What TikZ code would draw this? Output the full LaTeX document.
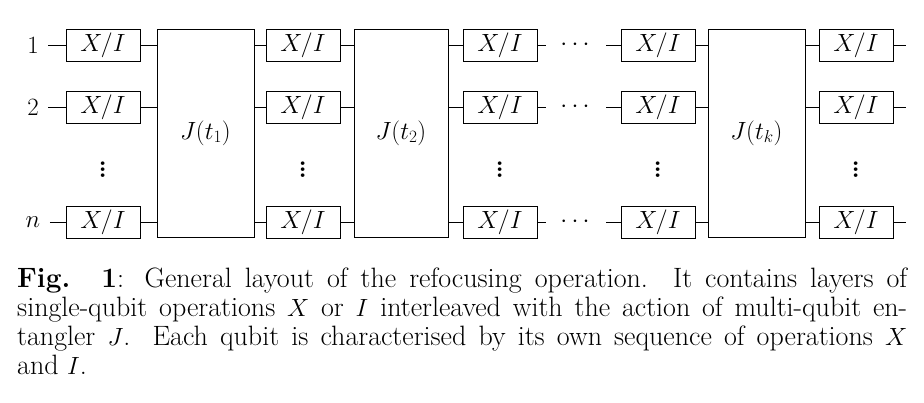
\documentclass[tikz,border=0pt]{standalone}
\begin{document}
\begin{tikzpicture}[x=1pt,y=-1pt,
  g/.style={draw,line width=0.9pt,minimum width=74pt,minimum height=32pt,inner sep=0pt,font=\fontsize{24}{28}\selectfont},
  J/.style={draw,line width=0.9pt,inner sep=0pt,font=\fontsize{24}{28}\selectfont},
  w/.style={line width=0.9pt},
  lab/.style={font=\fontsize{24}{28}\selectfont},
  dt/.style={inner sep=0pt,font=\fontsize{30}{34}\selectfont}]
\useasboundingbox (0,0) rectangle (924,402);
% J boxes
\node[J,minimum width=97pt,minimum height=208pt] (J1) at (205.5,133) {$J(t_1)$};
\node[J,minimum width=94pt,minimum height=208pt] (J2) at (401,133) {$J(t_2)$};
\node[J,minimum width=97pt,minimum height=208pt] (J3) at (756.5,133) {$J(t_k)$};
% row labels
\node[lab] (l1) at (33,45) {$1$};
\node[lab] (l2) at (33,107) {$2$};
\node[lab] (ln) at (33,222) {$n$};
\foreach \c/\x in {a/103,b/303,c/500,d/658,e/856}{
  \node[g] (\c1) at (\x,45) {$X/I$};
  \node[g] (\c2) at (\x,107) {$X/I$};
  \node[g] (\c n) at (\x,222) {$X/I$};
  \node[dt,scale=1.5] (\c v) at (\x,165) {$\vdots$};
}
\foreach \r/\y in {1/45,2/107,n/222}{
  \draw[w] (l\r.east)++(6,0) -- (a\r.west);
  \draw[w] (a\r.east) -- (a\r.east -| J1.west);
  \draw[w] (J1.east |- b\r.west) -- (b\r.west);
  \draw[w] (b\r.east) -- (b\r.east -| J2.west);
  \draw[w] (J2.east |- c\r.west) -- (c\r.west);
  \coordinate (p\r) at (546,\y);
  \coordinate (q\r) at (606,\y);
  \draw[w] (c\r.east) -- (p\r);
  \node[dt] (dots\r) at (575,\y) {$\cdots$};
  \draw[w] (q\r) -- (d\r.west);
  \draw[w] (d\r.east) -- (d\r.east -| J3.west);
  \draw[w] (J3.east |- e\r.west) -- (e\r.west);
  \coordinate (z\r) at (906,\y);
  \draw[w] (e\r.east) -- (z\r);
}
\node[anchor=north west,inner sep=0pt,text width=890pt,align=justify,font=\fontsize{28}{29}\selectfont] (cap) at (17,268)
{\textbf{Fig. 1}: General layout of the refocusing operation. It contains layers of\linebreak single-qubit operations $X$ or $I$ interleaved with the action of multi-qubit en-\linebreak tangler $J$. Each qubit is characterised by its own sequence of operations $X$\linebreak and $I$.};
\end{tikzpicture}
\end{document}
